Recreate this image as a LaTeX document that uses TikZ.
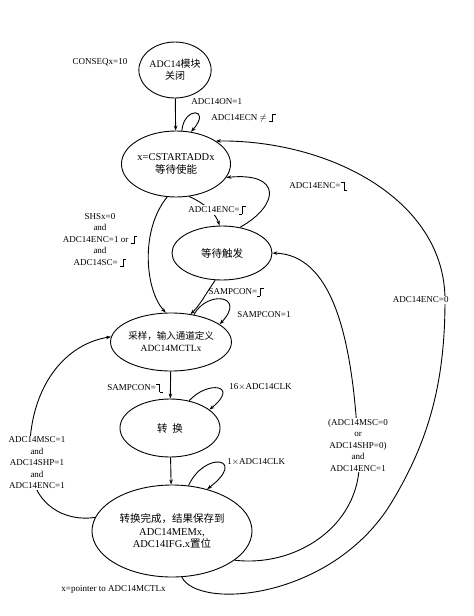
\documentclass[tikz,border=0pt]{standalone}
\usepackage{fontspec}
\setmainfont{Liberation Serif}
\newfontfamily\cjk{Noto Sans CJK SC}
\usetikzlibrary{arrows.meta,shapes.geometric}

% edge glyphs
\newcommand{\risingedge}{\raisebox{-1.5pt}{\rule{3pt}{0.5pt}\rule{0.5pt}{8pt}\rule[7.5pt]{3pt}{0.5pt}}}
\newcommand{\fallingedge}{\raisebox{-1.5pt}{\rule[7.5pt]{3pt}{0.5pt}\rule{0.5pt}{8pt}\rule{3pt}{0.5pt}}}

\begin{document}
\begin{tikzpicture}[x=1pt, y=-1pt, line width=0.9pt, >={Stealth[length=5pt,width=3.5pt]},
    state/.style={draw, ellipse, inner sep=0pt, align=center, font=\fontsize{10.5}{12.5}\selectfont},
    lbl/.style={inner sep=1pt, align=center, font=\fontsize{9}{11.5}\selectfont},
    cover/.style={lbl, fill=white}]
\useasboundingbox (0,0) rectangle (474,616);

% States
\node[state, minimum width=56pt, minimum height=56pt, font=\fontsize{10}{12}\selectfont] (off) at (175,70) {ADC14{\cjk 模块}\\{\cjk 关闭}};
\node[state, minimum width=108pt, minimum height=66pt] (enable) at (176,164) {x=CSTARTADDx\\{\cjk 等待使能}};
\node[state, minimum width=100pt, minimum height=54pt] (trigger) at (222,253) {{\cjk 等待触发}};
\node[state, minimum width=106pt, minimum height=58pt, font=\fontsize{9.5}{12}\selectfont] (sample) at (171,342) {{\cjk 采样，输入通道定义}\\ADC14MCTLx};
\node[state, minimum width=100pt, minimum height=58pt] (convert) at (170,428) {{\cjk 转\ \ 换}};
\node[state, minimum width=160pt, minimum height=92pt] (done) at (172,531) {{\cjk 转换完成，结果保存到}\\ADC14MEMx,\\ADC14IFG.x{\cjk 置位}};

% Free labels
\node[lbl] (conseq) at (100,62) {CONSEQx=10};
\node[lbl, anchor=west] (lblon) at (190,102) {ADC14ON=1};
\node[lbl, anchor=west] (lblecn) at (210,118) {ADC14ECN $\neq$ \risingedge};
\node[lbl] (lblshs) at (100,240) {SHSx=0\\and\\ADC14ENC=1 or \risingedge\\and\\ADC14SC= \risingedge};
\node[lbl, anchor=west] (lblencfall) at (288,186) {ADC14ENC=\fallingedge};
\node[lbl, anchor=west] (lblsampone) at (236,315) {SAMPCON=1};
\node[lbl, anchor=east] (lblsampfall) at (164,388) {SAMPCON=\fallingedge};
\node[lbl, anchor=west] (lblsixteen) at (228,387) {16$\times$ADC14CLK};
\node[lbl, anchor=west] (lblone) at (226,462) {1$\times$ADC14CLK};
\node[lbl, anchor=west] (lblptr) at (60,589) {x=pointer to ADC14MCTLx};

% Straight transitions
\draw[->] (off) -- (enable);
\draw[->] (sample) -- (convert);
\draw[->] (convert) -- (done);

% Self loops
\draw[->] (enable.80) .. controls (184,106) and (212,108) .. (enable.65);
\draw[->] (sample.50) .. controls (207,290) and (247,295) .. (sample.20);
\draw[->] (convert.55) .. controls (208,380) and (240,385) .. (convert.25);
\draw[->] (done.70) .. controls (205,450) and (248,458) .. (done.50);

% Enable <-> trigger
\draw[->] (enable.-68) .. controls (208,205) and (216,215) .. node[cover, xshift=7pt] (lblencrise) {ADC14ENC=\risingedge} (trigger.95);
\draw[->] (trigger.55) .. controls (280,205) and (282,172) .. (enable.-15);

% Into sampling
\draw[->] (enable.-105) .. controls (140,230) and (145,290) .. (sample.100);
\draw[->] (trigger.-104) .. controls (205,295) and (200,305) .. node[lbl, pos=0.3, anchor=west] (lblsamprise) {SAMPCON=\risingedge} (sample.55);

% Back from done
\draw[->] (done.170) .. controls (65,522) and (32,505) .. (30,463) node[cover, xshift=7pt] (lblmscone) {ADC14MSC=1\\and\\ADC14SHP=1\\and\\ADC14ENC=1} .. controls (26,395) and (60,345) .. (sample.175);
\draw[->] (done.-25) .. controls (300,568) and (370,520) .. (358,445) node[cover] (lblmsczero) {(ADC14MSC=0\\or\\ADC14SHP=0)\\and\\ADC14ENC=1} .. controls (352,330) and (330,255) .. (trigger.east);
\draw[->] (done.-78) .. controls (198,610) and (330,600) .. (390,505) .. controls (430,440) and (445,380) .. (445,300) node[cover, anchor=east, xshift=5pt] (lblenczero) {ADC14ENC=0} .. controls (445,200) and (330,140) .. (enable.30);

\end{tikzpicture}
\end{document}
